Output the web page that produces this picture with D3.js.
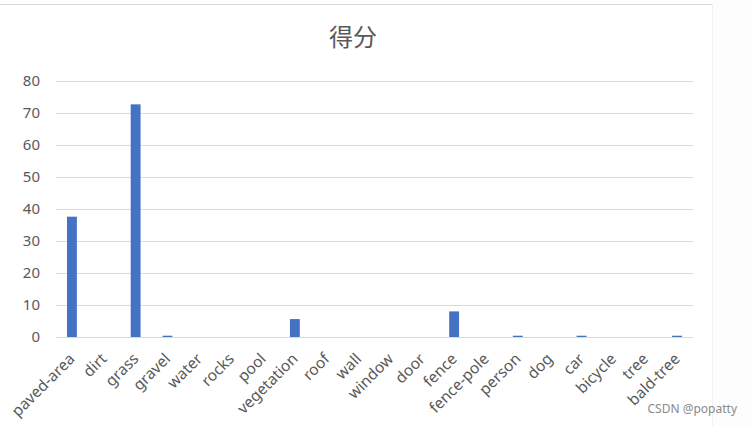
<!DOCTYPE html>
<html><head><meta charset="utf-8">
<script src="https://cdn.jsdelivr.net/npm/d3@7"></script>
<style>body{margin:0;background:#fff;}svg{display:block;font-family:"Noto Sans","Noto Sans CJK SC",sans-serif;}</style>
</head><body>
<svg id="c" width="753" height="426"></svg>
<script>
const categories = ["paved-area","dirt","grass","gravel","water","rocks","pool","vegetation","roof","wall","window","door","fence","fence-pole","person","dog","car","bicycle","tree","bald-tree"];
const scores = [37.6,0,72.7,0.4,0,0,0,5.6,0,0,0,0,8.0,0,0.4,0,0.4,0,0,0.4];
const yTicks = [0,10,20,30,40,50,60,70,80];
const title = "得分";
const watermark = "CSDN @popatty";

const svg = d3.select("#c");
// outer chart frame
svg.append("rect").attr("x",712).attr("y",0).attr("width",41).attr("height",426).attr("fill","#fdfdfd");
svg.append("line").attr("x1",0).attr("x2",712).attr("y1",4.5).attr("y2",4.5).attr("stroke","#d9d9d9");
svg.append("line").attr("x1",712.5).attr("x2",712.5).attr("y1",4).attr("y2",426).attr("stroke","#f0f0f0");

const pLeft = 56, pRight = 693, pTop = 81, pBottom = 337;
const x = d3.scaleBand().domain(categories).range([pLeft,pRight]).paddingInner(0.69).paddingOuter(0.345);
const y = d3.scaleLinear().domain([0,80]).range([pBottom,pTop]);

// gridlines
svg.append("g").selectAll("line").data(yTicks).join("line")
  .attr("x1",pLeft).attr("x2",pRight)
  .attr("y1",d=>Math.round(y(d))+0.5).attr("y2",d=>Math.round(y(d))+0.5)
  .attr("stroke","#d9d9d9").attr("stroke-width",1);

// y axis labels
const yAxis = d3.axisLeft(y).tickValues(yTicks).tickSize(0).tickPadding(0);
const gy = svg.append("g").attr("transform",`translate(${pLeft-16},0)`).call(yAxis);
gy.select(".domain").remove();
gy.selectAll("text").attr("fill","#595959").style("font-size","15px").style("font-family","'Noto Sans',sans-serif");

// bars
svg.append("g").selectAll("rect").data(categories).join("rect")
  .attr("x",d=>x(d)).attr("width",x.bandwidth())
  .attr("y",(d,i)=>y(scores[i])).attr("height",(d,i)=>pBottom-y(scores[i]))
  .attr("fill","#4472c4");

// x axis
const xAxis = d3.axisBottom(x).tickSize(0).tickPadding(0);
const gx = svg.append("g").attr("transform",`translate(0,${pBottom})`).call(xAxis);
gx.select(".domain").attr("stroke","#d9d9d9").attr("d",`M${pLeft},0.5H${pRight}`);
gx.selectAll("text")
  .attr("fill","#595959").style("font-size","15.5px").style("font-family","'Noto Sans',sans-serif")
  .attr("text-anchor","end").attr("dy","0.35em")
  .attr("transform","translate(0,19) rotate(-45)")
  .attr("y",0).attr("x",0);

// title
svg.append("text").attr("x",353).attr("y",46).attr("text-anchor","middle")
  .attr("fill","#595959").style("font-size","24px").style("font-family","'Noto Sans CJK SC',sans-serif").text(title);

// watermark
svg.append("text").attr("x",737).attr("y",413).attr("text-anchor","end")
  .attr("fill","#8a8a8a").style("font-size","12px").style("font-family","'Noto Sans',sans-serif").text(watermark);
</script>
</body></html>
